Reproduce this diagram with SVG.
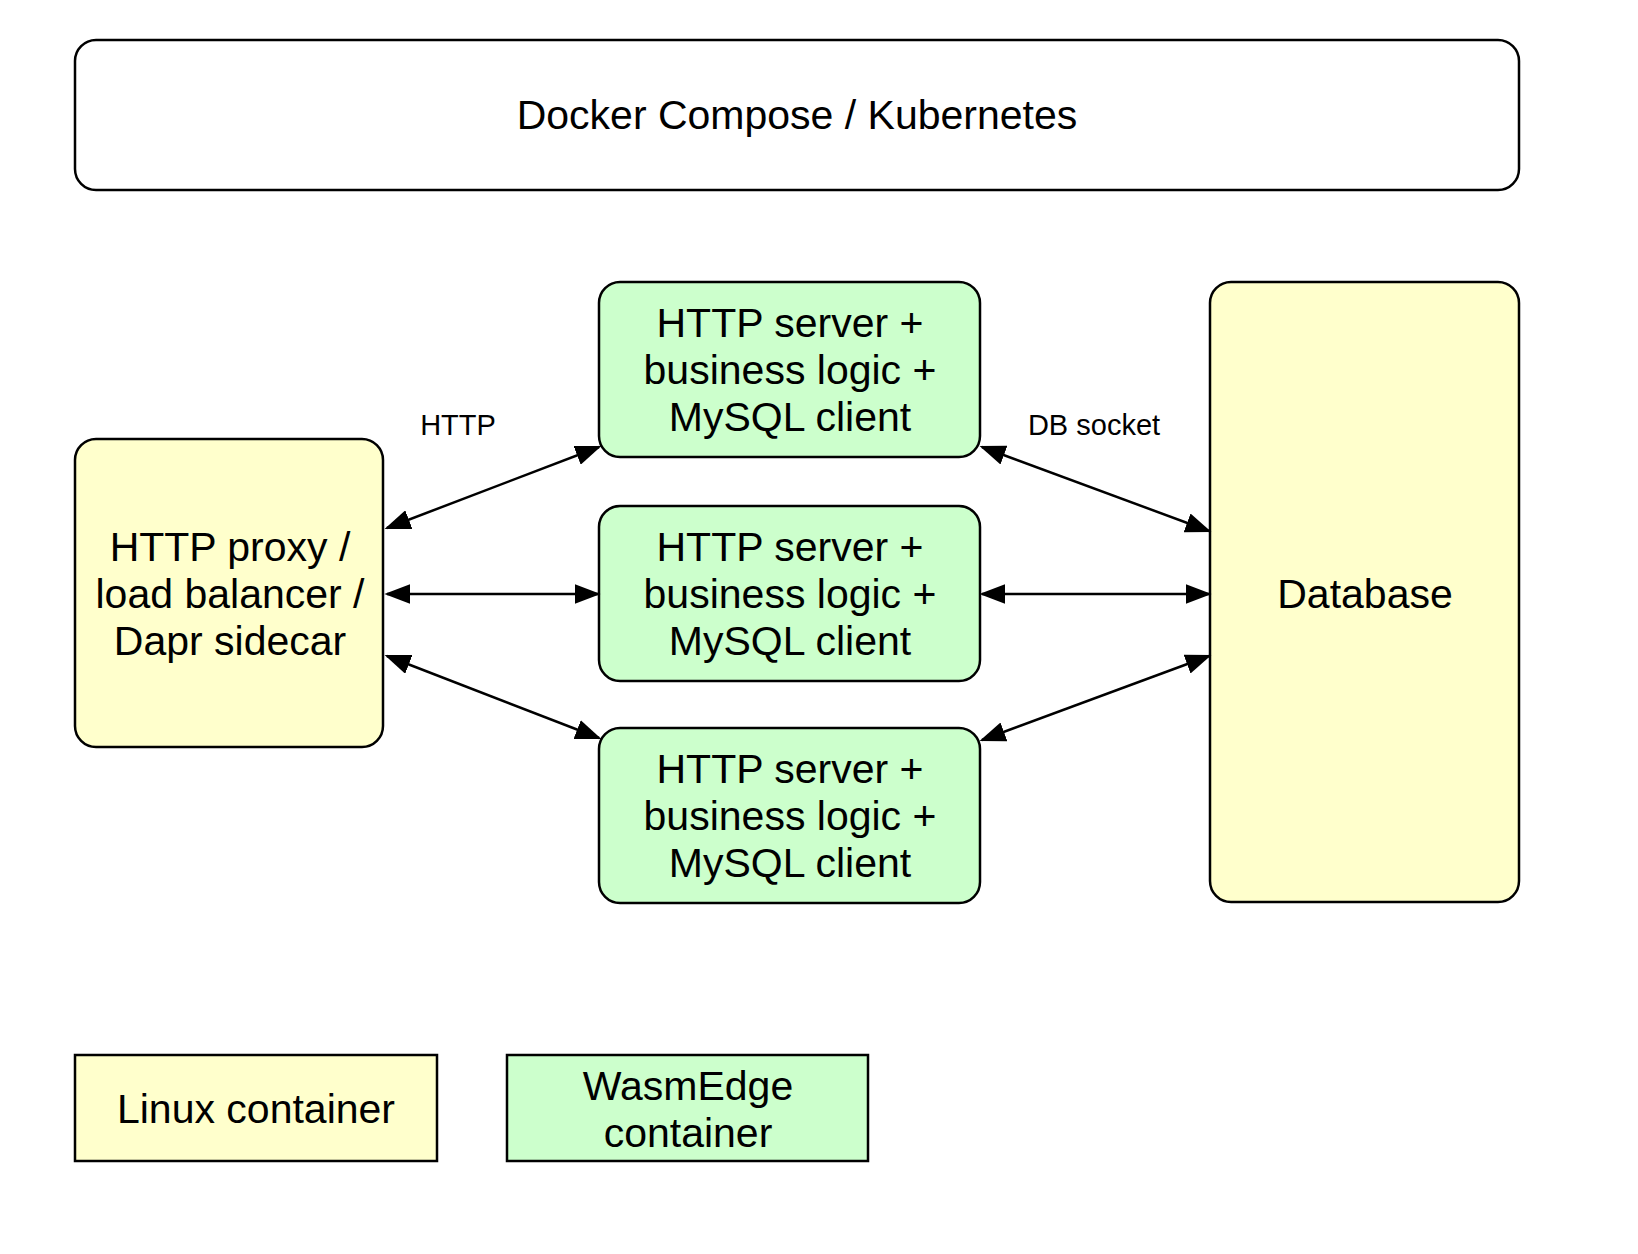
<svg xmlns="http://www.w3.org/2000/svg" width="1638" height="1254" viewBox="0 0 1638 1254">
<style>
text{font-family:"Liberation Sans",Arial,sans-serif;fill:#000;text-anchor:middle;dominant-baseline:central}
.big{font-size:41px}.lbl{font-size:29px}
.box{stroke:#000;stroke-width:2.5}
.y{fill:#ffffcc}.g{fill:#ccffcc}
.c{stroke:#000;stroke-width:2.5;fill:none;marker-start:url(#a);marker-end:url(#a)}
</style>
<defs><marker id="a" viewBox="0 0 10 10" refX="9" refY="5" markerWidth="26" markerHeight="20" markerUnits="userSpaceOnUse" orient="auto-start-reverse" preserveAspectRatio="none"><path d="M0,0L10,5L0,10z" fill="#000"/></marker></defs>
<g id="docker"><rect class="box" x="75" y="40" width="1444" height="150" rx="21" fill="#fff"/><text class="big" x="797" y="115">Docker Compose / Kubernetes</text></g>
<g id="proxy"><rect class="box y" x="75" y="439" width="308" height="308" rx="21"/><text class="big" x="230" y="547">HTTP proxy /</text><text class="big" x="230" y="594">load balancer /</text><text class="big" x="230" y="641">Dapr sidecar</text></g>
<g id="svc1"><rect class="box g" x="599" y="282" width="381" height="175" rx="21"/><text class="big" x="790" y="323">HTTP server +</text><text class="big" x="790" y="370">business logic +</text><text class="big" x="790" y="417">MySQL client</text></g>
<g id="svc2"><rect class="box g" x="599" y="506" width="381" height="175" rx="21"/><text class="big" x="790" y="547">HTTP server +</text><text class="big" x="790" y="594">business logic +</text><text class="big" x="790" y="641">MySQL client</text></g>
<g id="svc3"><rect class="box g" x="599" y="728" width="381" height="175" rx="21"/><text class="big" x="790" y="769">HTTP server +</text><text class="big" x="790" y="816">business logic +</text><text class="big" x="790" y="863">MySQL client</text></g>
<g id="db"><rect class="box y" x="1210" y="282" width="309" height="620" rx="21"/><text class="big" x="1365" y="594">Database</text></g>
<g id="legend-linux"><rect class="box y" x="75" y="1055" width="362" height="106"/><text class="big" x="256" y="1109">Linux container</text></g>
<g id="legend-wasm"><rect class="box g" x="507" y="1055" width="361" height="106"/><text class="big" x="688" y="1086">WasmEdge</text><text class="big" x="688" y="1133">container</text></g>
<g id="connectors">
<line class="c" x1="387" y1="528" x2="599" y2="447"/>
<line class="c" x1="387" y1="594" x2="598" y2="594"/>
<line class="c" x1="387" y1="656" x2="599" y2="738"/>
<line class="c" x1="982" y1="447" x2="1209" y2="531"/>
<line class="c" x1="982" y1="594" x2="1209" y2="594"/>
<line class="c" x1="982" y1="740" x2="1209" y2="656"/>
<text class="lbl" x="458" y="425">HTTP</text>
<text class="lbl" x="1094" y="425">DB socket</text>
</g>
</svg>
